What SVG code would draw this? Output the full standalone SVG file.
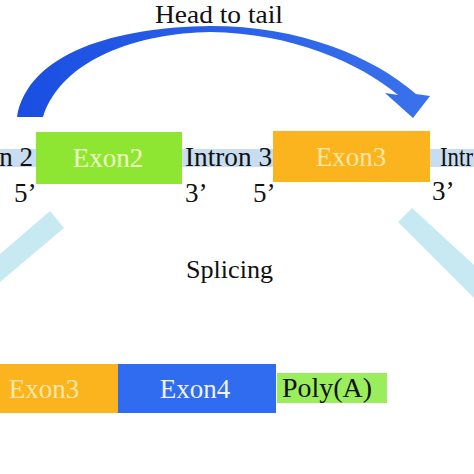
<svg xmlns="http://www.w3.org/2000/svg" width="474" height="474" viewBox="0 0 474 474">
<defs>
<linearGradient id="arcG" x1="0" y1="0" x2="1" y2="0">
<stop offset="0" stop-color="#1a4ee2"/>
<stop offset="1" stop-color="#3a72ec"/>
</linearGradient>
</defs>
<style>
.t{font-family:"Liberation Serif","Times New Roman",serif;}
.lbl{font-size:27px;fill:#111;}
.ex{font-size:27px;text-anchor:middle;}
.band{fill:#c6e9f2;}
</style>
<rect width="474" height="474" fill="#ffffff"/>
<g id="intron-band"><rect x="0" y="149" width="474" height="18" fill="#c8ddef"/></g>
<g id="connectors">
<path id="head-to-tail-arrow" d="M17,117 C28,52 118,27 210,26 C300,26 372,56 416,94 L430,96 L413,118 L385,93 L398,95 C360,63 292,33 210,32 C140,33 62,58 43,117 Z" fill="url(#arcG)"/>
<polygon id="splice-left" class="band" points="0,254 50,211 64,228 0,282"/>
<polygon id="splice-right" class="band" points="398,222 412,208 474,265 474,298"/>
</g>
<g id="head-to-tail-label"><text class="t" x="155" y="23" font-size="25" textLength="128" lengthAdjust="spacingAndGlyphs" fill="#111">Head to tail</text></g>
<g id="intron2"><text class="t lbl" x="33" y="166" text-anchor="end">n 2</text></g>
<g id="exon2"><rect x="36" y="132" width="146" height="52" fill="#8ee632"/><text class="t ex" x="108" y="167" fill="#eefbc4">Exon2</text></g>
<g id="intron3"><text class="t lbl" x="185" y="166" textLength="87" lengthAdjust="spacingAndGlyphs">Intron 3</text></g>
<g id="exon3-top"><rect x="273" y="131" width="157" height="51" fill="#fbb41e"/><text class="t ex" x="351" y="166" fill="#fbe7a4">Exon3</text></g>
<g id="intron4"><text class="t lbl" x="440" y="166" textLength="33" lengthAdjust="spacingAndGlyphs">Intr</text></g>
<g id="primes">
<text class="t lbl" x="14" y="202">5’</text>
<text class="t lbl" x="185" y="202">3’</text>
<text class="t lbl" x="253" y="202">5’</text>
<text class="t lbl" x="432" y="200">3’</text>
</g>
<g id="splicing-label"><text class="t" x="186" y="278" font-size="26" textLength="87" lengthAdjust="spacingAndGlyphs" fill="#111">Splicing</text></g>
<g id="exon3-bottom"><rect x="0" y="364" width="118" height="49" fill="#fbb41e"/><text class="t ex" x="44" y="398" fill="#fbe7a4">Exon3</text></g>
<g id="exon4"><rect x="118" y="364" width="158" height="49" fill="#2f6cf0"/><text class="t ex" x="195" y="398" fill="#eef3ff">Exon4</text></g>
<g id="polya"><rect x="277" y="373" width="110" height="30" fill="#9aee5c"/><text class="t" x="282" y="397" font-size="27" textLength="90" lengthAdjust="spacingAndGlyphs" fill="#111">Poly(A)</text></g>
</svg>
